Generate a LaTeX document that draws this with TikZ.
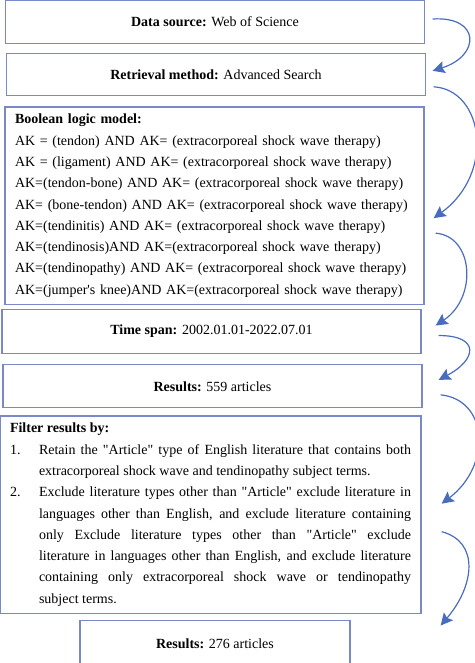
\documentclass[tikz,border=0pt]{standalone}
\usepackage{fontspec}
\setmainfont{Liberation Serif}[Ligatures=TeXOff]
\usepackage{enumitem}
\usepackage{tikz}
\usetikzlibrary{arrows.meta,positioning}
\definecolor{boxblue}{HTML}{7C88C6}
\definecolor{arrowblue}{HTML}{4A6CBF}
\newcommand{\flowfont}{\fontsize{14pt}{21.3pt}\selectfont\hyphenpenalty=10000\exhyphenpenalty=10000}
\tikzstyle{flowbox} = [draw=boxblue, line width=1.3pt, rectangle,
    minimum width=419pt, minimum height=43pt, inner sep=0pt, font=\flowfont]
\tikzstyle{listbox} = [flowbox, inner xsep=10pt, inner ysep=7pt, align=left]
\tikzstyle{curvearrow} = [draw=arrowblue, line width=1.2pt,
    -{Stealth[length=12pt,width=12pt,inset=2pt]}]

\begin{document}
\begin{tikzpicture}
\useasboundingbox (0,0) rectangle (474pt,-663pt);
\node [flowbox] (source) at (215pt,-22pt) {\textbf{Data source:} Web of Science};
\node [flowbox, below=9pt of source, xshift=1pt, minimum height=42pt] (method)
    {\textbf{Retrieval method:} Advanced Search};
\node [listbox, text width=399pt, below=10pt of method, xshift=-1.5pt] (boolean){%
    \textbf{Boolean logic model:}\\
    AK = (tendon) AND AK= (extracorporeal shock wave therapy)\\
    AK = (ligament) AND AK= (extracorporeal shock wave therapy)\\
    AK=(tendon-bone) AND AK= (extracorporeal shock wave therapy)\\
    AK= (bone-tendon) AND AK= (extracorporeal shock wave therapy)\\
    AK=(tendinitis) AND AK= (extracorporeal shock wave therapy)\\
    AK=(tendinosis)AND AK=(extracorporeal shock wave therapy)\\
    AK=(tendinopathy) AND AK= (extracorporeal shock wave therapy)\\
    AK=(jumper's knee)AND AK=(extracorporeal shock wave therapy)
};
\node [flowbox, below=4pt of boolean, xshift=-3pt, minimum height=44pt] (timespan)
    {\textbf{Time span:} 2002.01.01-2022.07.01};
\node [flowbox, below=10pt of timespan, xshift=1pt] (found)
    {\textbf{Results:} 559 articles};
\node [listbox, text width=401pt, align=justify, below=7pt of found, xshift=-2pt] (filter){%
    \textbf{Filter results by:}
    \begin{enumerate}[nosep, leftmargin=29pt, labelwidth=29pt, labelsep=0pt, align=left]
        \item Retain the "Article" type of English literature that contains both\linebreak
            extracorporeal shock wave and tendinopathy subject terms.
        \item Exclude literature types other than "Article" exclude literature in\linebreak
            languages other than English, and exclude literature containing\linebreak
            only Exclude literature types other than "Article" exclude\linebreak
            literature in languages other than English, and exclude literature\linebreak
            containing only extracorporeal shock wave or tendinopathy\linebreak
            subject terms.
    \end{enumerate}
};
\node [flowbox, below=6pt of filter, xshift=4.5pt, minimum width=270pt, minimum height=46pt] (kept)
    {\textbf{Results:} 276 articles};
% arrows on the right
\draw [curvearrow] ([xshift=7.5pt,yshift=3pt]source.east)
    .. controls +(48pt,3pt) and +(48pt,15pt) .. ([xshift=6.5pt,yshift=4pt]method.east);
\draw [curvearrow] ([xshift=7.5pt,yshift=-12pt]method.east)
    .. controls +(50pt,-3pt) and +(62pt,45pt) .. ([xshift=9pt,yshift=-12.5pt]boolean.east);
\draw [curvearrow] ([xshift=11pt,yshift=-27.5pt]boolean.east)
    .. controls +(38pt,-3pt) and +(42pt,28pt) .. ([xshift=14pt,yshift=6pt]timespan.east);
\draw [curvearrow] ([xshift=17pt,yshift=-4pt]timespan.east)
    .. controls +(42pt,0pt) and +(38pt,20pt) .. ([xshift=16pt,yshift=6.5pt]found.east);
\draw [curvearrow] ([xshift=18pt,yshift=-8.5pt]found.east)
    .. controls +(48pt,-5pt) and +(50pt,38pt) .. ([xshift=20pt,yshift=11pt]filter.east);
\draw [curvearrow] ([xshift=20pt,yshift=-17pt]filter.east)
    .. controls +(38pt,-10pt) and +(34pt,40pt) .. ([xshift=90pt,yshift=18pt]kept.east);
\end{tikzpicture}
\end{document}
